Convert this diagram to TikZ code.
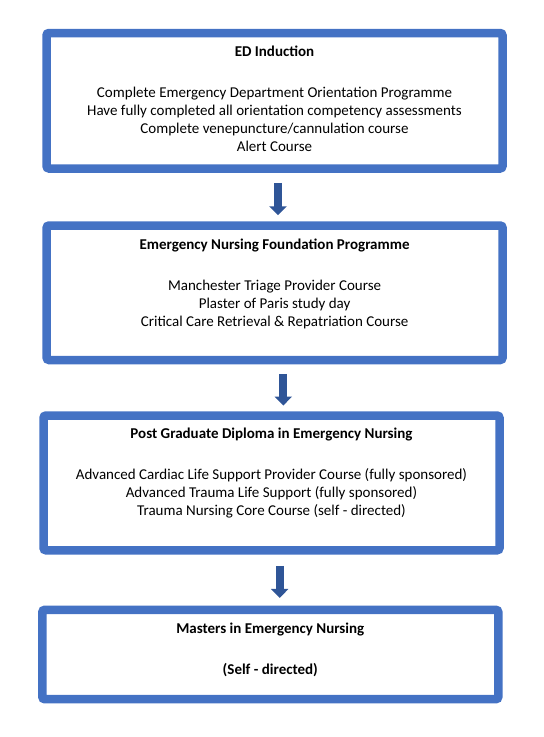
\documentclass[tikz,border=0pt]{standalone}
\usepackage{fontspec}
\setmainfont{Carlito}
\usetikzlibrary{positioning, arrows.meta}
\definecolor{boxblue}{HTML}{4472C4}
\definecolor{arrowblue}{HTML}{2F5597}

\begin{document}
\begin{tikzpicture}[x=1pt, y=-1pt,
   box/.style={draw=boxblue, line width=8.5pt, rounded corners=2.5pt, minimum width=456pt},
   txt/.style={align=center, inner sep=0pt, font=\fontsize{15}{18}\selectfont},
   flow/.style={draw=arrowblue, line width=8pt, -{Triangle[width=17pt, length=9pt]}}]
   \useasboundingbox (0,0) rectangle (544,737);

   \node[box, minimum height=135.5pt] (ed)   at (274.5,100.75) {};
   \node[box, minimum height=134.5pt] (enfp) at (274.6,292.75) {};
   \node[box, minimum height=134.8pt] (pgd)  at (271.5,482.9) {};
   \node[box, minimum height=89.4pt]  (msc)  at (270.3,654.5) {};

   \node[txt, below=17pt of ed.north] (edtext) {\textbf{ED Induction}\\[23pt]
      Complete Emergency Department Orientation Programme\\
      Have fully completed all orientation competency assessments\\
      Complete venepuncture/cannulation course\\
      Alert Course};
   \node[txt, below=17pt of enfp.north] (enfptext) {\textbf{Emergency Nursing Foundation Programme}\\[23pt]
      Manchester Triage Provider Course\\
      Plaster of Paris study day\\
      Critical Care Retrieval \& Repatriation Course};
   \node[txt, below=17pt of pgd.north] (pgdtext) {\textbf{Post Graduate Diploma in Emergency Nursing}\\[23pt]
      Advanced Cardiac Life Support Provider Course (fully sponsored)\\
      Advanced Trauma Life Support (fully sponsored)\\
      Trauma Nursing Core Course (self - directed)};
   \node[txt, below=17pt of msc.north] (msctext) {\textbf{Masters in Emergency Nursing}\\[23pt]
      \textbf{(Self - directed)}};

   \coordinate (out1) at ([xshift=3.5pt, yshift=-10pt]ed.south);
   \coordinate (out2) at ([xshift=8.7pt, yshift=-9.7pt]enfp.south);
   \coordinate (out3) at ([xshift=8.2pt, yshift=-11.3pt]pgd.south);
   \draw[flow] (out1) -- ([yshift=6pt]out1 |- enfp.north);
   \draw[flow] (out2) -- ([yshift=5.7pt]out2 |- pgd.north);
   \draw[flow] (out3) -- ([yshift=7.6pt]out3 |- msc.north);
\end{tikzpicture}
\end{document}
